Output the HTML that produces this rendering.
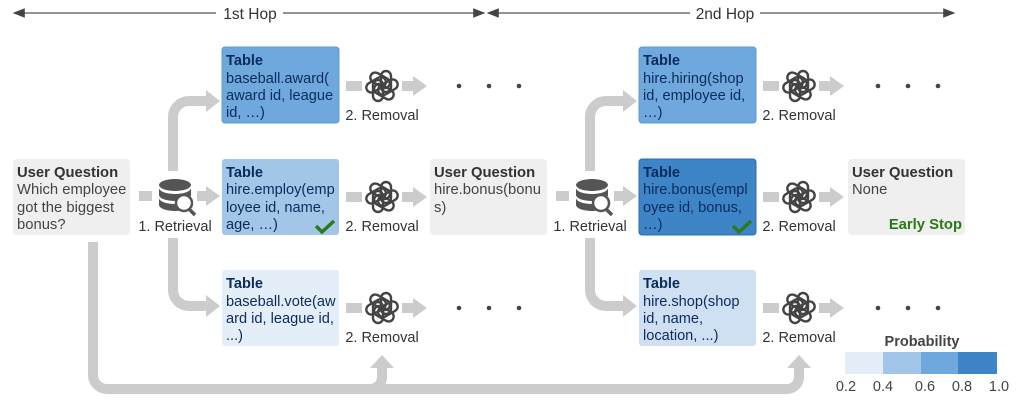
<!DOCTYPE html>
<html><head><meta charset="utf-8"><style>
html,body{margin:0;padding:0;background:#fff;}
svg text{font-family:"Liberation Sans",sans-serif;}
</style></head><body>
<svg width="1020" height="400" viewBox="0 0 1020 400" xmlns="http://www.w3.org/2000/svg">
<defs>
<g id="oai" fill="none" stroke="#444" stroke-width="2.4">
<rect x="-1" y="-15" width="10" height="21" rx="5" transform="rotate(0)"/>
<rect x="-1" y="-15" width="10" height="21" rx="5" transform="rotate(60)"/>
<rect x="-1" y="-15" width="10" height="21" rx="5" transform="rotate(120)"/>
<rect x="-1" y="-15" width="10" height="21" rx="5" transform="rotate(180)"/>
<rect x="-1" y="-15" width="10" height="21" rx="5" transform="rotate(240)"/>
<rect x="-1" y="-15" width="10" height="21" rx="5" transform="rotate(300)"/>
</g>
<g id="flow">
<rect x="-36" y="-5" width="16" height="10" fill="#cccccc"/>
<rect x="20" y="-5" width="12" height="10" fill="#cccccc"/>
<polygon points="31,-10 45,0 31,10" fill="#cccccc"/>
<use href="#oai"/>
<text x="0" y="34" font-size="14.5" fill="#333" text-anchor="middle">2. Removal</text>
</g>
<g id="db">
<ellipse cx="0" cy="-11" rx="16" ry="6" fill="#555"/>
<path d="M-16,-8 v7 a16,6 0 0 0 32,0 v-7 a16,6 0 0 1 -32,0z" fill="#555"/>
<path d="M-16,2 v7 a16,6 0 0 0 32,0 v-7 a16,6 0 0 1 -32,0z" fill="#555"/>
<circle cx="9" cy="7" r="8" fill="#fff" stroke="#555" stroke-width="2.5"/>
<line x1="14" y1="13" x2="20" y2="19" stroke="#555" stroke-width="3.5"/>
<rect x="-36" y="-5" width="13" height="10" fill="#cccccc"/>
<rect x="22" y="-5" width="10" height="10" fill="#cccccc"/>
<polygon points="31,-10 45,0 31,10" fill="#cccccc"/>
</g>
<marker id="ah" markerWidth="10" markerHeight="8" refX="9" refY="4" orient="auto"><polygon points="0,0 10,4 0,8" fill="#444"/></marker>
<marker id="ahs" markerWidth="10" markerHeight="8" refX="1" refY="4" orient="auto"><polygon points="10,0 0,4 10,8" fill="#444"/></marker>
</defs>

<line x1="14" y1="13" x2="216" y2="13" stroke="#555" stroke-width="1.2" marker-start="url(#ahs)"/>
<line x1="283" y1="13" x2="484" y2="13" stroke="#555" stroke-width="1.2" marker-end="url(#ah)"/>
<text x="250" y="19" font-size="15.5" fill="#333" text-anchor="middle">1st Hop</text>
<line x1="488" y1="13" x2="690" y2="13" stroke="#555" stroke-width="1.2" marker-start="url(#ahs)"/>
<line x1="760" y1="13" x2="954" y2="13" stroke="#555" stroke-width="1.2" marker-end="url(#ah)"/>
<text x="725" y="19" font-size="15.5" fill="#333" text-anchor="middle">2nd Hop</text>

<path d="M93,242 V375 a14,14 0 0 0 14,14 H370 a12,12 0 0 0 12,-12 V366" fill="none" stroke="#cccccc" stroke-width="10"/>
<path d="M370,389 H787 a12,12 0 0 0 12,-12 V366" fill="none" stroke="#cccccc" stroke-width="10"/>
<polygon points="370,368 382,355 394,368" fill="#cccccc"/>
<polygon points="787,368 799,355 811,368" fill="#cccccc"/>

<path d="M173,171 V117 a16,16 0 0 1 16,-16 H208" fill="none" stroke="#cccccc" stroke-width="10"/>
<polygon points="206,90 220,101 206,112" fill="#cccccc"/>
<path d="M173,238 V290 a16,16 0 0 0 16,16 H208" fill="none" stroke="#cccccc" stroke-width="10"/>
<polygon points="206,295 220,306 206,317" fill="#cccccc"/>
<path d="M590,171 V117 a16,16 0 0 1 16,-16 H625" fill="none" stroke="#cccccc" stroke-width="10"/>
<polygon points="623,90 637,101 623,112" fill="#cccccc"/>
<path d="M590,238 V290 a16,16 0 0 0 16,16 H625" fill="none" stroke="#cccccc" stroke-width="10"/>
<polygon points="623,295 637,306 623,317" fill="#cccccc"/>

<rect x="13" y="159" width="117" height="76" rx="4" fill="#efefef"/>
<text font-size="14.8" fill="#444"><tspan x="17" y="177" font-weight="bold" fill="#333">User Question</tspan><tspan x="17" y="194">Which employee</tspan><tspan x="17" y="212">got the biggest</tspan><tspan x="17" y="229">bonus?</tspan></text>
<rect x="430" y="159" width="117" height="76" rx="4" fill="#efefef"/>
<text font-size="14.8" fill="#444"><tspan x="434" y="177" font-weight="bold" fill="#333">User Question</tspan><tspan x="434" y="194">hire.bonus(bonu</tspan><tspan x="434" y="212">s)</tspan></text>
<rect x="848" y="159" width="117" height="76" rx="4" fill="#efefef"/>
<text font-size="14.8" fill="#444"><tspan x="852" y="177" font-weight="bold" fill="#333">User Question</tspan><tspan x="852" y="194">None</tspan></text>
<text x="962" y="229" font-size="14.8" font-weight="bold" fill="#2a7a12" text-anchor="end">Early Stop</text>

<use href="#db" x="175" y="196"/>
<text x="175" y="231" font-size="14.5" fill="#333" text-anchor="middle">1. Retrieval</text>
<use href="#db" x="592" y="196"/>
<text x="590" y="231" font-size="14.5" fill="#333" text-anchor="middle">1. Retrieval</text>

<g font-size="14.6" fill="#0b2b5c">
<rect x="222" y="47" width="117" height="76" rx="3" fill="#6fa8dc" stroke="#5b9bd5" stroke-width="1"/>
<text><tspan x="226" y="65" font-weight="bold">Table</tspan><tspan x="226" y="83">baseball.award(</tspan><tspan x="226" y="100">award id, league</tspan><tspan x="226" y="117">id, …)</tspan></text>
<rect x="222" y="159" width="117" height="76" rx="3" fill="#a2c5e8"/>
<text><tspan x="226" y="177" font-weight="bold">Table</tspan><tspan x="226" y="194">hire.employ(emp</tspan><tspan x="226" y="212">loyee id, name,</tspan><tspan x="226" y="229">age, …)</tspan></text>
<rect x="222" y="270" width="117" height="76" rx="3" fill="#e3eef8"/>
<text><tspan x="226" y="288" font-weight="bold">Table</tspan><tspan x="226" y="306">baseball.vote(aw</tspan><tspan x="226" y="323">ard id, league id,</tspan><tspan x="226" y="340">...)</tspan></text>
<rect x="639" y="47" width="117" height="76" rx="3" fill="#6fa8dc" stroke="#5b9bd5" stroke-width="1"/>
<text><tspan x="643" y="65" font-weight="bold">Table</tspan><tspan x="643" y="83">hire.hiring(shop</tspan><tspan x="643" y="100">id, employee id,</tspan><tspan x="643" y="117">…)</tspan></text>
<rect x="639" y="159" width="117" height="76" rx="3" fill="#3d85c6" stroke="#2a6fb0" stroke-width="1"/>
<text><tspan x="643" y="177" font-weight="bold">Table</tspan><tspan x="643" y="194">hire.bonus(empl</tspan><tspan x="643" y="212">oyee id, bonus,</tspan><tspan x="643" y="229">…)</tspan></text>
<rect x="639" y="270" width="117" height="76" rx="3" fill="#cfe0f3"/>
<text><tspan x="643" y="288" font-weight="bold">Table</tspan><tspan x="643" y="306">hire.shop(shop</tspan><tspan x="643" y="323">id, name,</tspan><tspan x="643" y="340">location, ...)</tspan></text>
</g>
<path d="M316,226 l6,6 l12,-11" fill="none" stroke="#2d7a18" stroke-width="3.5"/>
<path d="M733,226 l6,6 l12,-11" fill="none" stroke="#2d7a18" stroke-width="3.5"/>

<use href="#flow" x="382" y="86"/>
<use href="#flow" x="382" y="197"/>
<use href="#flow" x="382" y="308"/>
<use href="#flow" x="799" y="86"/>
<use href="#flow" x="799" y="197"/>
<use href="#flow" x="799" y="308"/>

<g fill="#444">
<circle cx="459" cy="86" r="2.3"/><circle cx="489" cy="86" r="2.3"/><circle cx="519" cy="86" r="2.3"/>
<circle cx="459" cy="308" r="2.3"/><circle cx="489" cy="308" r="2.3"/><circle cx="519" cy="308" r="2.3"/>
<circle cx="878" cy="86" r="2.3"/><circle cx="908" cy="86" r="2.3"/><circle cx="938" cy="86" r="2.3"/>
<circle cx="878" cy="308" r="2.3"/><circle cx="908" cy="308" r="2.3"/><circle cx="938" cy="308" r="2.3"/>
</g>

<text x="922" y="346" font-size="14.5" font-weight="bold" fill="#444" text-anchor="middle">Probability</text>
<rect x="845" y="352" width="38" height="22" fill="#e3eef8"/>
<rect x="883" y="352" width="38" height="22" fill="#a2c5e8"/>
<rect x="921" y="352" width="37" height="22" fill="#6fa8dc"/>
<rect x="958" y="352" width="39" height="22" fill="#3d85c6"/>
<g font-size="14.5" fill="#444" text-anchor="middle">
<text x="846" y="391">0.2</text><text x="883" y="391">0.4</text><text x="925" y="391">0.6</text><text x="962" y="391">0.8</text><text x="999" y="391">1.0</text>
</g>
</svg>
</body></html>
